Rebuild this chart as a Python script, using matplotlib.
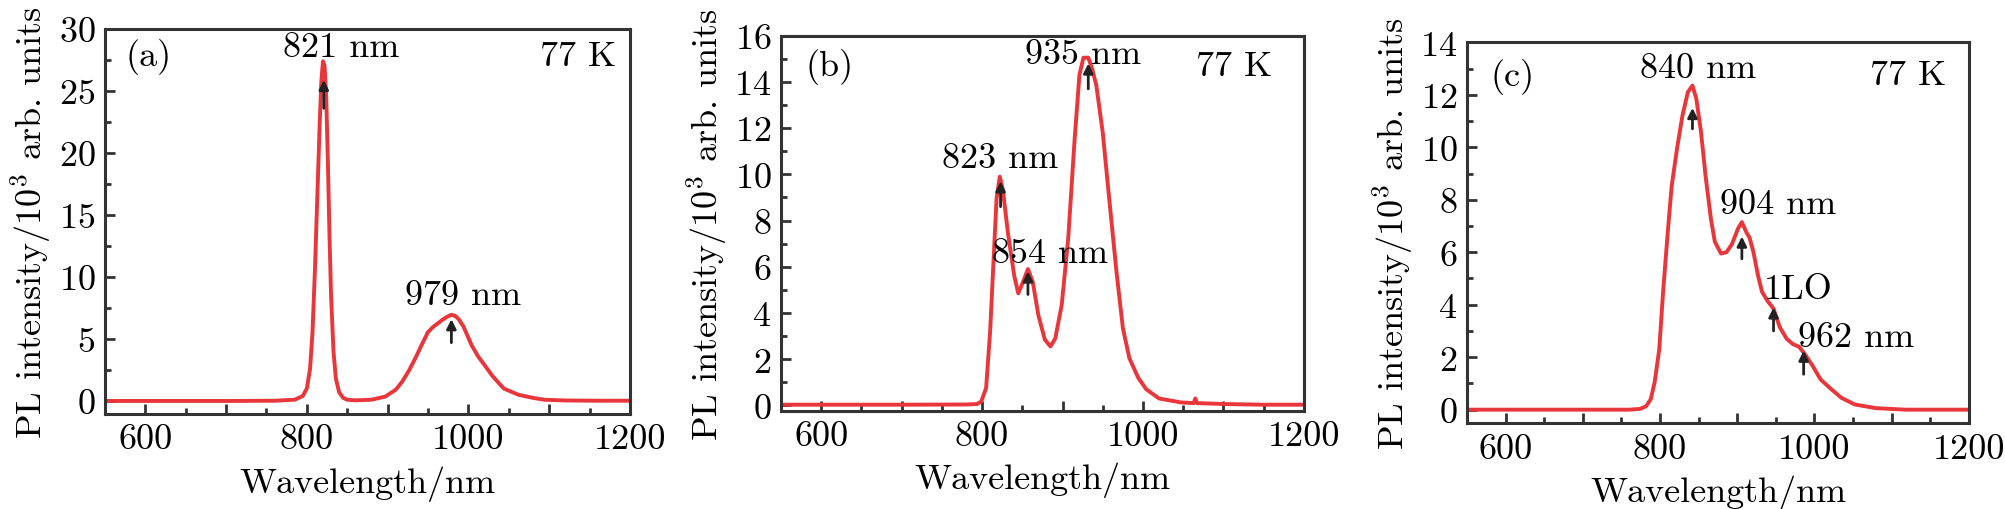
import matplotlib
matplotlib.use('Agg')
import matplotlib.pyplot as plt
from matplotlib.ticker import MultipleLocator, FuncFormatter

plt.rcParams['font.family'] = 'serif'
plt.rcParams['font.serif'] = ['cmr10']
plt.rcParams['mathtext.fontset'] = 'cm'
plt.rcParams['axes.formatter.use_mathtext'] = True

# (a) PL spectrum
wl_a = [550, 600, 700, 760, 785, 795, 800, 804, 807, 810, 813, 816, 818, 820, 822,
        824, 826, 828, 830, 833, 836, 840, 845, 850, 860, 880, 897, 910, 918, 926,
        934, 942, 950, 956, 961, 968, 974, 979, 984, 988, 994, 1000, 1004, 1012,
        1020, 1030, 1044, 1062, 1080, 1094, 1120, 1160, 1200]
pl_a = [0.0, 0.0, 0.0, 0.02, 0.1, 0.4, 1.0, 2.6, 5.5, 10.5, 16.5, 22.5, 25.8, 27.4, 27.0,
        24.5, 19.5, 13.5, 8.5, 4.0, 1.8, 0.7, 0.25, 0.1, 0.05, 0.1, 0.35, 0.9, 1.55, 2.4,
        3.4, 4.5, 5.55, 5.95, 6.2, 6.55, 6.8, 6.95, 6.85, 6.6, 6.0, 5.1, 4.5, 3.6,
        2.9, 2.0, 1.0, 0.5, 0.25, 0.1, 0.04, 0.02, 0.02]

# (b) PL spectrum
wl_b = [550, 600, 700, 780, 794, 799, 805, 810, 815, 818, 822, 826, 832, 840, 845,
        851, 857, 863, 870, 878, 885, 891, 899, 907, 915, 921, 926, 932, 937, 942,
        950, 958, 967, 975, 983, 994, 1004, 1020, 1047, 1063, 1065, 1067, 1101, 1150, 1200]
pl_b = [0.03, 0.03, 0.03, 0.04, 0.06, 0.17, 0.75, 3.2, 6.8, 8.95, 9.9, 9.3, 7.5, 5.6, 4.85,
        5.35, 5.9, 5.35, 3.9, 2.85, 2.55, 2.9, 4.35, 7.2, 11.5, 14.3, 15.05, 15.05, 14.55, 13.85,
        11.8, 8.95, 5.8, 3.35, 2.05, 1.2, 0.7, 0.3, 0.13, 0.1, 0.3, 0.1, 0.06, 0.03, 0.03]

# (c) PL spectrum
wl_c = [550, 600, 700, 760, 774, 782, 788, 793, 799, 804, 810, 815, 822, 829, 836,
        842, 847, 853, 859, 866, 871, 879, 886, 893, 901, 906, 912, 916, 921, 927,
        932, 939, 947, 955, 964, 972, 980, 988, 997, 1008, 1021, 1035, 1052, 1079,
        1118, 1160, 1200]
pl_c = [0.0, 0.0, 0.0, 0.0, 0.03, 0.13, 0.4, 1.04, 2.3, 4.5, 6.75, 8.5, 9.95, 11.2, 12.1,
        12.35, 11.85, 10.6, 8.9, 7.25, 6.4, 5.95, 6.0, 6.3, 6.9, 7.15, 6.75, 6.55, 6.0, 5.1,
        4.5, 4.15, 3.85, 3.15, 2.7, 2.5, 2.4, 2.1, 1.7, 1.15, 0.8, 0.45, 0.2, 0.06,
        0.0, 0.0, 0.0]

# peak labels: (text, text x, text y, arrow x, arrow tail y, arrow head y)
labels_a = [('821 nm', 843, 28.5, 821, 23.6, 25.9),
            ('979 nm', 994, 8.5, 979, 4.7, 6.6)]
labels_b = [('823 nm', 823, 10.7, 823, 8.6, 9.7),
            ('854 nm', 884, 6.6, 857, 4.8, 5.8),
            ('935 nm', 926, 15.2, 932, 13.7, 14.8)]
labels_c = [('840 nm', 849, 13.0, 842, 10.7, 11.5),
            ('904 nm', 953, 7.85, 906, 5.75, 6.6),
            ('1LO', 979, 4.6, 947, 3.0, 3.9),
            ('962 nm', 1054, 2.75, 986, 1.35, 2.25)]

red = '#e8363a'
fs = 26

fig = plt.figure(figsize=(20.06, 5.10), dpi=100)
boxes = [[0.0523, 0.1863, 0.2617, 0.7549],
         [0.3893, 0.1927, 0.2607, 0.7353],
         [0.7313, 0.1680, 0.2502, 0.7471]]
panels = [(wl_a, pl_a, labels_a, '(a)', (-1.05, 30), 5, 2.5, (0.039, 0.929), (0.973, 0.929)),
          (wl_b, pl_b, labels_b, '(b)', (-0.23, 16), 2, 1, (0.047, 0.92), (0.939, 0.92)),
          (wl_c, pl_c, labels_c, '(c)', (-0.52, 14), 2, 1, (0.047, 0.9125), (0.955, 0.9125))]

for box, (wl, pl, labs, tag, ylim, ymaj, ymin, tagpos, kpos) in zip(boxes, panels):
    ax = fig.add_axes(box)
    ax.plot(wl, pl, color=red, lw=2.8)
    ax.set_xlim(550, 1200)
    ax.set_ylim(*ylim)
    ax.xaxis.set_major_locator(MultipleLocator(100))
    ax.xaxis.set_minor_locator(MultipleLocator(50))
    ax.xaxis.set_major_formatter(FuncFormatter(lambda v, p: '%d' % v if int(round(v)) % 200 == 0 else ''))
    ax.yaxis.set_major_locator(MultipleLocator(ymaj))
    ax.yaxis.set_minor_locator(MultipleLocator(ymin))
    ax.tick_params(which='both', direction='in', top=False, right=False,
                   labelsize=fs, color='#333333', width=2)
    ax.tick_params(which='major', length=7, pad=7)
    ax.tick_params(which='minor', length=4)
    for s in ax.spines.values():
        s.set_linewidth(2.2)
        s.set_color('#333333')
    ax.set_xlabel('Wavelength/nm', fontsize=fs, labelpad=7)
    ax.set_ylabel(r'PL intensity/10$^3$ arb. units', fontsize=fs, labelpad=4)
    ax.text(tagpos[0], tagpos[1], tag, transform=ax.transAxes, fontsize=fs,
            ha='left', va='center')
    ax.text(kpos[0], kpos[1], '77 K', transform=ax.transAxes, fontsize=fs,
            ha='right', va='center')
    for txt, tx, ty, axx, y0, y1 in labs:
        ax.text(tx, ty, txt, fontsize=fs, ha='center', va='center')
        ax.annotate('', xy=(axx, y1), xytext=(axx, y0),
                    arrowprops=dict(arrowstyle='-|>', color='#222222', lw=2,
                                    mutation_scale=14, shrinkA=0, shrinkB=0))

fig.savefig('out.png', dpi=100)
